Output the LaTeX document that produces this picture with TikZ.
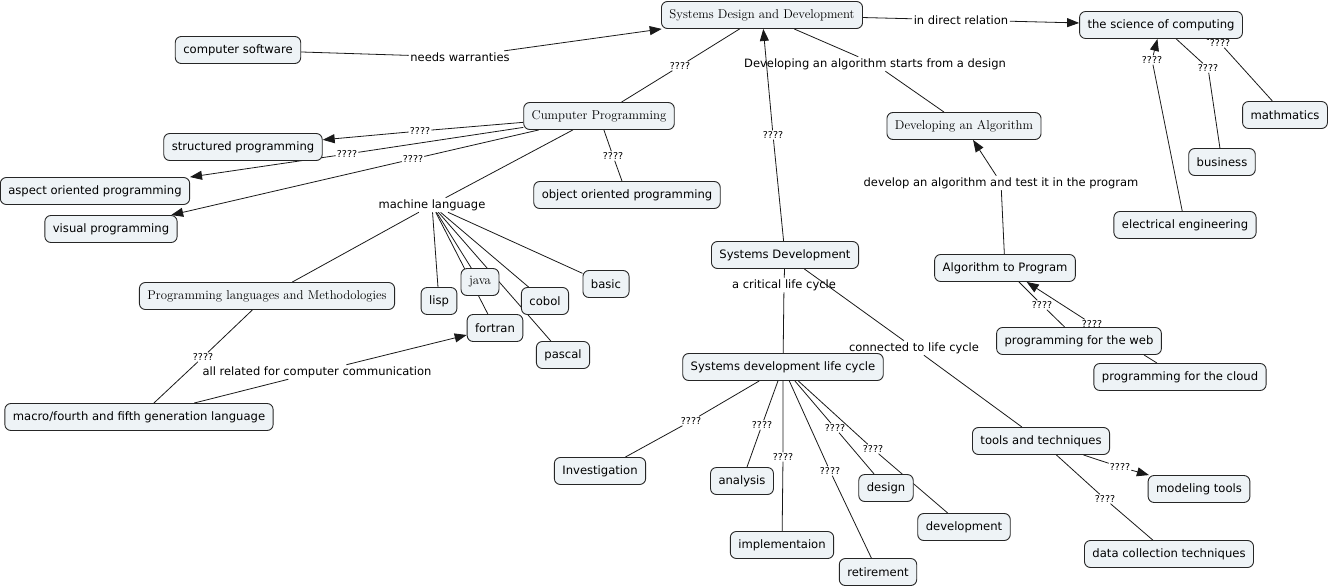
\documentclass[tikz,border=0pt]{standalone}
\usepackage{fontspec}
\newfontfamily\sansnode{DejaVu Sans}
\usetikzlibrary{arrows.meta,backgrounds}
\definecolor{boxfill}{RGB}{238,243,246}
\tikzset{
  concept/.style={draw=black!85, line width=0.9pt, fill=boxfill, rounded corners=6pt,
    minimum height=27pt, inner xsep=8pt, inner ysep=2pt, font=\sansnode\fontsize{11.6}{13}\selectfont},
  sconcept/.style={concept, font=\fontsize{12.8}{14}\selectfont},
  lnk/.style={inner sep=1.5pt, font=\sansnode\fontsize{11.5}{13}\selectfont},
  qq/.style={inner sep=1pt, font=\sansnode\fontsize{9.5}{11}\selectfont},
  con/.style={draw=black!90, line width=0.8pt},
  arr/.style={con, -{Triangle[length=12pt,width=9pt]}},
}
\begin{document}
\begin{tikzpicture}[x=1pt,y=-1pt]
\path[use as bounding box] (0,0) rectangle (1330,586);
% concepts
\node[sconcept] (sdd) at (762,15) {Systems Design and Development};
\node[concept] (soc) at (1161,25) {the science of computing};
\node[concept] (cs) at (238,50) {computer software};
\node[sconcept] (cp) at (599,116) {Cumputer Programming};
\node[sconcept] (dal) at (964,126) {Developing an Algorithm};
\node[concept] (math) at (1285,115) {mathmatics};
\node[concept] (sp) at (243,147) {structured programming};
\node[concept] (bus) at (1222,162) {business};
\node[concept] (aop) at (95,191) {aspect oriented programming};
\node[concept] (oop) at (627,195) {object oriented programming};
\node[concept] (vp) at (111,229) {visual programming};
\node[concept] (ee) at (1185,225) {electrical engineering};
\node[concept] (sd) at (785,255) {Systems Development};
\node[concept] (atp) at (1005,268) {Algorithm to Program};
\node[concept] (basic) at (606,284) {basic};
\node[sconcept] (java) at (480,282) {java};
\node[concept] (lisp) at (439,301) {lisp};
\node[concept] (cobol) at (545,301) {cobol};
\node[sconcept] (plm) at (267,296) {Programming languages and Methodologies};
\node[concept] (fortran) at (495,328) {fortran};
\node[concept] (pascal) at (563,355) {pascal};
\node[concept] (pweb) at (1079,341) {programming for the web};
\node[concept] (pcloud) at (1180,377) {programming for the cloud};
\node[concept] (sdlc) at (783,367) {Systems development life cycle};
\node[concept] (macro) at (139,417) {macro/fourth and fifth generation language};
\node[concept] (tt) at (1041,441) {tools and techniques};
\node[concept] (inv) at (600,471) {Investigation};
\node[concept] (ana) at (742,481) {analysis};
\node[concept] (mt) at (1199,489) {modeling tools};
\node[concept] (design) at (886,488) {design};
\node[concept] (dev) at (964,527) {development};
\node[concept] (impl) at (782,545) {implementaion};
\node[concept] (ret) at (878,572) {retirement};
\node[concept] (dct) at (1169,554) {data collection techniques};
% link labels
\node[lnk] (nw) at (460,57) {needs warranties};
\node[lnk] (idr) at (961,20) {in direct relation};
\node[qq] (q1) at (680,66) {????};
\node[lnk] (dsd) at (875,64) {Developing an algorithm starts from a design};
\node[qq] (q2) at (773,135) {????};
\node[qq] (q3) at (420,131) {????};
\node[qq] (q4) at (347,154) {????};
\node[qq] (q5) at (413,159) {????};
\node[qq] (q6) at (613,156) {????};
\node[lnk] (ml) at (432,205) {machine language};
\node[lnk] (dat) at (1001,183) {develop an algorithm and test it in the program};
\node[qq] (q8) at (1152,60) {????};
\node[qq] (q9) at (1208,68) {????};
\node[qq] (q10) at (1220,43) {????};
\node[lnk] (acl) at (784,285) {a critical life cycle};
\node[lnk] (ctl) at (914,348) {connected to life cycle};
\node[qq] (q11) at (1042,305) {????};
\node[qq] (q12) at (1092,324) {????};
\node[qq] (q7) at (203,357) {????};
\node[lnk] (arc) at (317,372) {all related for computer communication};
\node[qq] (q13) at (691,421) {????};
\node[qq] (q14) at (762,425) {????};
\node[qq] (q15) at (783,457) {????};
\node[qq] (q16) at (830,471) {????};
\node[qq] (q17) at (835,428) {????};
\node[qq] (q18) at (873,449) {????};
\node[qq] (q19) at (1120,467) {????};
\node[qq] (q20) at (1105,499) {????};
% connectors
\begin{scope}[on background layer]
\draw[con] (cs) -- (nw); \draw[arr] (nw) -- (sdd);
\draw[con] (sdd) -- (idr); \draw[arr] (idr) -- (soc);
\draw[con] (sdd) -- (q1) -- (cp);
\draw[con] (sdd) -- (dsd) -- (dal);
\draw[con] (sd) -- (q2); \draw[arr] (q2) -- (sdd);
\draw[con] (cp) -- (q3); \draw[arr] (q3) -- (sp);
\draw[con] (cp) -- (q4); \draw[arr] (q4) -- (aop);
\draw[con] (cp) -- (q5); \draw[arr] (q5) -- (vp);
\draw[con] (cp) -- (q6) -- (oop);
\draw[con] (cp) -- (ml);
\foreach \t in {lisp,java,fortran,cobol,pascal,basic,plm} \draw[con] (ml) -- (\t);
\draw[con] (plm) -- (q7) -- (macro);
\draw[con] (macro) -- (arc); \draw[arr] (arc) -- (fortran);
\draw[con] (sd) -- (acl) -- (sdlc);
\draw[con] (sd) -- (ctl) -- (tt);
\draw[con] (atp) -- (dat); \draw[arr] (dat) -- (dal);
\draw[con] (ee) -- (q8); \draw[arr] (q8) -- (soc);
\draw[con] (soc) -- (q9) -- (bus);
\draw[con] (soc) -- (q10) -- (math);
\draw[con] (atp) -- (q11) -- (pweb);
\draw[con] (pweb) -- (q12); \draw[arr] (q12) -- (atp);
\draw[con] ([xshift=65pt]pweb.south) -- ([xshift=-23pt]pcloud.north);
\draw[con] (sdlc) -- (q13) -- (inv);
\draw[con] (sdlc) -- (q14) -- (ana);
\draw[con] (sdlc) -- (q15) -- (impl);
\draw[con] (sdlc) -- (q16) -- (ret);
\draw[con] (sdlc) -- (q17) -- (design);
\draw[con] (sdlc) -- (q18) -- (dev);
\draw[con] (tt) -- (q19); \draw[arr] (q19) -- (mt);
\draw[con] (tt) -- (q20) -- (dct);
\end{scope}
\end{tikzpicture}
\end{document}
